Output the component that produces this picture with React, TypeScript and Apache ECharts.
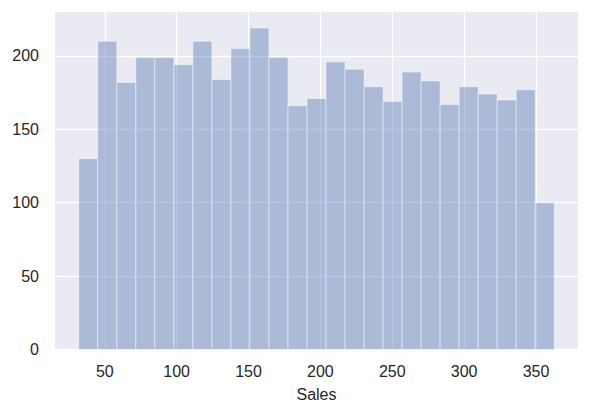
import React, {useEffect, useRef} from 'react';
import * as echarts from 'echarts';

// histogram of Sales: 25 bins
const BIN_START = 31.9;
const BIN_WIDTH = 13.23;
const counts = [130, 210, 182, 199, 199, 194, 210, 184, 205, 219, 199, 166, 171,
  196, 191, 179, 169, 189, 183, 167, 179, 174, 170, 177, 100];
const yTicks = [0, 50, 100, 150, 200];
const xName = 'Sales';

const App: React.FC = () => {
  const chartRef = useRef<HTMLDivElement | null>(null);

  useEffect(() => {
    document.body.style.margin = '0';
    if (!chartRef.current) return;
    const chart = echarts.init(chartRef.current, null, {renderer: 'svg'});

    const bins = counts.map((c, i) => [BIN_START + i * BIN_WIDTH, BIN_START + (i + 1) * BIN_WIDTH, c]);
    const lo = BIN_START;
    const hi = BIN_START + counts.length * BIN_WIDTH;
    const pad = (hi - lo) * 0.05;
    const yMax = Math.max(...counts) * 1.05;

    const labelStyle = {color: '#262626', fontSize: 16, fontFamily: 'Liberation Sans'};

    const option: echarts.EChartsOption = {
      animation: false,
      grid: {
        left: 55, right: 11, top: 12, bottom: 64.5,
        show: true, backgroundColor: '#EAEAF2', borderWidth: 0,
      },
      xAxis: {
        type: 'value',
        min: lo - pad,
        max: hi + pad,
        minInterval: 50,
        maxInterval: 50,
        name: xName,
        nameLocation: 'middle',
        nameGap: 37,
        nameTextStyle: labelStyle,
        axisLine: {show: false},
        axisTick: {show: false},
        axisLabel: {...labelStyle, margin: 14, showMinLabel: false, showMaxLabel: false},
        splitLine: {show: true, lineStyle: {color: '#fff', width: 1.3}, showMinLine: false, showMaxLine: false},
      },
      yAxis: {
        type: 'value',
        min: yTicks[0],
        max: yMax,
        interval: yTicks[1] - yTicks[0],
        axisLine: {show: false},
        axisTick: {show: false},
        axisLabel: {...labelStyle, margin: 16, showMaxLabel: false},
        splitLine: {show: true, lineStyle: {color: '#fff', width: 1.3}, showMaxLine: false},
      },
      series: [
        {
          type: 'custom',
          data: bins,
          encode: {x: [0, 1], y: 2},
          renderItem: (params: any, api: any) => {
            const p0 = api.coord([api.value(0), 0]);
            const p1 = api.coord([api.value(1), api.value(2)]);
            return {
              type: 'rect',
              shape: {x: p0[0], y: p1[1], width: p1[0] - p0[0], height: p0[1] - p1[1]},
              style: {fill: 'rgba(76,114,176,0.4)', stroke: 'rgba(255,255,255,0.45)', lineWidth: 1},
            };
          },
        },
      ],
    };

    chart.setOption(option);
    return () => {
      chart.dispose();
    };
  }, []);

  return <div ref={chartRef} style={{width: '589px', height: '414px'}}/>;
};

export default App;
